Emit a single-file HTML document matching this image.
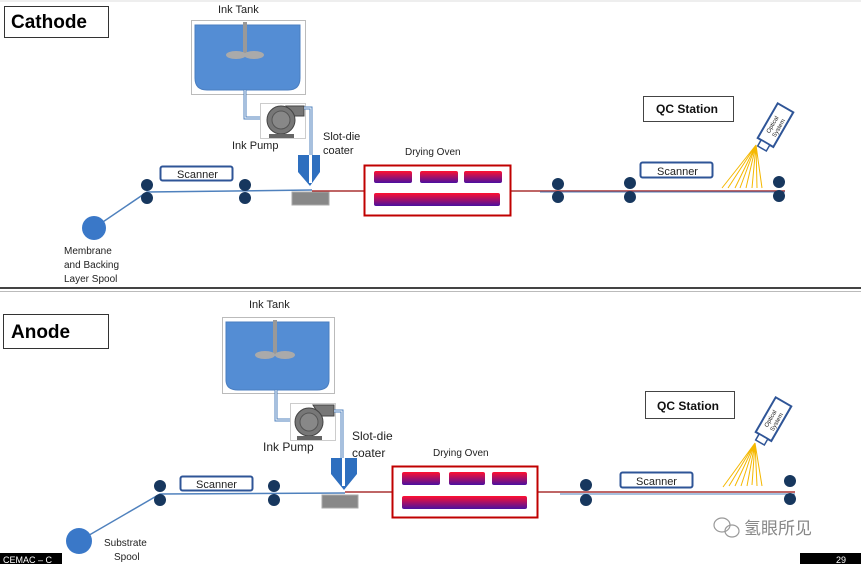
<!DOCTYPE html>
<html><head><meta charset="utf-8"><style>
body{margin:0;background:#fff}
svg{display:block}
text{font-family:"Liberation Sans","Noto Sans CJK SC",sans-serif;fill:#222}
</style></head><body>
<svg width="861" height="564" viewBox="0 0 861 564" xmlns="http://www.w3.org/2000/svg">
<defs>
<linearGradient id="bar" x1="0" y1="0" x2="0" y2="1">
<stop offset="0" stop-color="#ff1030"/><stop offset="1" stop-color="#4a10a0"/></linearGradient>
</defs>
<rect x="0" y="0" width="861" height="2" fill="#eee"/>
<!-- ===== CATHODE ===== -->
<rect x="4.5" y="6.5" width="104" height="31" fill="#fff" stroke="#333"/>
<text x="11" y="28" font-size="19" font-weight="bold" style="fill:#000">Cathode</text>
<text x="218" y="13" font-size="11">Ink Tank</text>
<rect x="191.5" y="20.5" width="114" height="74" fill="#fff" stroke="#bbb"/>
<path d="M195 25 H300 V78 Q300 90 288 90 H207 Q195 90 195 78Z" fill="#548dd4" stroke="#4a7ec0"/>
<rect x="243" y="22" width="4" height="34" fill="#999"/>
<ellipse cx="236" cy="55" rx="10" ry="4" fill="#aaa"/><ellipse cx="254" cy="55" rx="10" ry="4" fill="#aaa"/>
<path d="M245 90 V118 H262" fill="none" stroke="#4f81bd" stroke-width="3"/>
<path d="M245 90 V118 H262" fill="none" stroke="#fff" stroke-width="1"/>
<rect x="260.5" y="103.5" width="45" height="35" fill="#fff" stroke="#ccc"/>
<path d="M286 106 H304 V116 H292Z" fill="#777" stroke="#444"/>
<circle cx="281" cy="120" r="14" fill="#777" stroke="#444"/>
<circle cx="281" cy="120" r="9" fill="#888" stroke="#555"/>
<path d="M269 134 H294 V138 H269Z" fill="#666"/>
<path d="M304 108 H311 V162" fill="none" stroke="#4f81bd" stroke-width="3"/>
<path d="M304 108 H311 V162" fill="none" stroke="#fff" stroke-width="1"/>
<path d="M298 155 H320 V172 L310 186 L298 172Z" fill="#2e6fbf"/>
<rect x="309" y="155" width="3" height="28" fill="#fff"/>
<text x="232" y="149" font-size="11">Ink Pump</text>
<text x="323" y="140" font-size="11">Slot-die</text>
<text x="323" y="154" font-size="11">coater</text>
<rect x="292" y="192" width="37" height="13" fill="#888" stroke="#aaa"/>
<path d="M94 228 L147 192 L312 190" fill="none" stroke="#4f81bd" stroke-width="1.5"/>
<path d="M312 191 H785" stroke="#a33" stroke-width="1.5"/>
<path d="M540 192 H785" stroke="#4f81bd" stroke-width="1"/>
<g fill="#17375e">
<circle cx="147" cy="185" r="6"/><circle cx="147" cy="198" r="6"/>
<circle cx="245" cy="185" r="6"/><circle cx="245" cy="198" r="6"/>
<circle cx="558" cy="184" r="6"/><circle cx="558" cy="197" r="6"/>
<circle cx="630" cy="183" r="6"/><circle cx="630" cy="197" r="6"/>
<circle cx="779" cy="182" r="6"/><circle cx="779" cy="196" r="6"/>
</g>
<circle cx="94" cy="228" r="12" fill="#3a78c8"/>
<text x="64" y="254" font-size="10">Membrane</text>
<text x="64" y="268" font-size="10">and Backing</text>
<text x="64" y="282" font-size="10">Layer Spool</text>
<rect x="160.5" y="166.5" width="72" height="14" rx="2" fill="#fff" stroke="#2f5597" stroke-width="2"/>
<text x="177" y="178" font-size="11">Scanner</text>
<rect x="640.5" y="162.5" width="72" height="15" rx="2" fill="#fff" stroke="#2f5597" stroke-width="2"/>
<text x="657" y="175" font-size="11">Scanner</text>
<text x="405" y="155" font-size="10">Drying Oven</text>
<rect x="364.5" y="165.5" width="146" height="50" fill="#fff" stroke="#c00000" stroke-width="2"/>
<rect x="374" y="171" width="38" height="12" rx="2" fill="url(#bar)"/>
<rect x="420" y="171" width="38" height="12" rx="2" fill="url(#bar)"/>
<rect x="464" y="171" width="38" height="12" rx="2" fill="url(#bar)"/>
<rect x="374" y="193" width="126" height="13" rx="2" fill="url(#bar)"/>
<rect x="643.5" y="96.5" width="90" height="25" fill="#fff" stroke="#444"/>
<text x="656" y="113" font-size="12" font-weight="bold" style="fill:#111">QC Station</text>
<g transform="translate(775,126) rotate(30)">
<rect x="-9" y="-21" width="18" height="40" fill="#fff" stroke="#2f5597" stroke-width="2"/>
<rect x="-5" y="19" width="10" height="7" fill="#fff" stroke="#2f5597" stroke-width="1.5"/>
<text transform="rotate(-90)" x="0" y="-1" font-size="6" text-anchor="middle">Optical</text>
<text transform="rotate(-90)" x="0" y="6" font-size="6" text-anchor="middle">System</text>
</g>
<g stroke="#f5b800" stroke-width="1">
<path d="M756 145 L722 188 M756 145 L728 188 M756 145 L735 188 M756 145 L740 188 M756 145 L746 188 M756 145 L752 188 M756 145 L757 188 M756 145 L762 188"/>
</g>
<!-- divider -->
<rect x="0" y="287" width="861" height="2" fill="#444"/>
<rect x="0" y="291" width="861" height="1" fill="#bbb"/>
<!-- ===== ANODE ===== -->
<rect x="3.5" y="314.5" width="105" height="34" fill="#fff" stroke="#333"/>
<text x="11" y="338" font-size="19" font-weight="bold" style="fill:#000">Anode</text>
<text x="249" y="308" font-size="11">Ink Tank</text>
<rect x="222.5" y="317.5" width="112" height="76" fill="#fff" stroke="#bbb"/>
<path d="M226 322 H329 V380 Q329 390 317 390 H238 Q226 390 226 380Z" fill="#548dd4" stroke="#4a7ec0"/>
<rect x="273" y="320" width="4" height="36" fill="#999"/>
<ellipse cx="265" cy="355" rx="10" ry="4" fill="#aaa"/><ellipse cx="285" cy="355" rx="10" ry="4" fill="#aaa"/>
<path d="M276 390 V420 H295" fill="none" stroke="#4f81bd" stroke-width="3"/>
<path d="M276 390 V420 H295" fill="none" stroke="#fff" stroke-width="1"/>
<rect x="290.5" y="403.5" width="45" height="37" fill="#fff" stroke="#ccc"/>
<path d="M313 405 H334 V416 H320Z" fill="#777" stroke="#444"/>
<circle cx="309" cy="422" r="14" fill="#777" stroke="#444"/>
<circle cx="309" cy="422" r="9" fill="#888" stroke="#555"/>
<path d="M297 436 H322 V440 H297Z" fill="#666"/>
<path d="M334 411 H342 V462" fill="none" stroke="#4f81bd" stroke-width="3"/>
<path d="M334 411 H342 V462" fill="none" stroke="#fff" stroke-width="1"/>
<path d="M331 458 H357 V474 L344 490 L331 474Z" fill="#2e6fbf"/>
<rect x="342" y="458" width="3" height="28" fill="#fff"/>
<text x="263" y="451" font-size="12">Ink Pump</text>
<text x="352" y="440" font-size="12">Slot-die</text>
<text x="352" y="457" font-size="12">coater</text>
<rect x="322" y="495" width="36" height="13" fill="#888" stroke="#aaa"/>
<path d="M79 541 L160 494 L345 493" fill="none" stroke="#4f81bd" stroke-width="1.5"/>
<path d="M345 492 H795" stroke="#a33" stroke-width="1.5"/>
<path d="M560 494 H795" stroke="#4f81bd" stroke-width="1"/>
<g fill="#17375e">
<circle cx="160" cy="486" r="6"/><circle cx="160" cy="500" r="6"/>
<circle cx="274" cy="486" r="6"/><circle cx="274" cy="500" r="6"/>
<circle cx="586" cy="485" r="6"/><circle cx="586" cy="500" r="6"/>
<circle cx="790" cy="481" r="6"/><circle cx="790" cy="499" r="6"/>
</g>
<circle cx="79" cy="541" r="13" fill="#3a78c8"/>
<text x="104" y="546" font-size="10">Substrate</text>
<text x="114" y="560" font-size="10">Spool</text>
<rect x="180.5" y="476.5" width="72" height="14" rx="2" fill="#fff" stroke="#2f5597" stroke-width="2"/>
<text x="196" y="488" font-size="11">Scanner</text>
<rect x="620.5" y="472.5" width="72" height="15" rx="2" fill="#fff" stroke="#2f5597" stroke-width="2"/>
<text x="636" y="485" font-size="11">Scanner</text>
<text x="433" y="456" font-size="10">Drying Oven</text>
<rect x="392.5" y="466.5" width="145" height="51" fill="#fff" stroke="#c00000" stroke-width="2"/>
<rect x="402" y="472" width="38" height="13" rx="2" fill="url(#bar)"/>
<rect x="449" y="472" width="36" height="13" rx="2" fill="url(#bar)"/>
<rect x="492" y="472" width="35" height="13" rx="2" fill="url(#bar)"/>
<rect x="402" y="496" width="125" height="13" rx="2" fill="url(#bar)"/>
<rect x="645.5" y="391.5" width="89" height="27" fill="#fff" stroke="#444"/>
<text x="657" y="410" font-size="12" font-weight="bold" style="fill:#111">QC Station</text>
<g transform="translate(773,420) rotate(30)">
<rect x="-9" y="-21" width="18" height="40" fill="#fff" stroke="#2f5597" stroke-width="2"/>
<rect x="-5" y="19" width="10" height="7" fill="#fff" stroke="#2f5597" stroke-width="1.5"/>
<text transform="rotate(-90)" x="0" y="-1" font-size="6" text-anchor="middle">Optical</text>
<text transform="rotate(-90)" x="0" y="6" font-size="6" text-anchor="middle">System</text>
</g>
<g stroke="#f5b800" stroke-width="1">
<path d="M755 443 L723 487 M755 443 L729 486 M755 443 L735 486 M755 443 L741 486 M755 443 L747 486 M755 443 L752 485 M755 443 L757 486 M755 443 L762 486"/>
</g>
<!-- watermark & footer -->
<g fill="none" stroke="#999" stroke-width="1.2">
<ellipse cx="722" cy="525" rx="8" ry="7"/><ellipse cx="732" cy="531" rx="7" ry="6"/>
</g>
<text x="744" y="534" font-size="17" style="fill:#888">氢眼所见</text>
<rect x="0" y="553" width="62" height="11" fill="#000"/>
<text x="3" y="563" font-size="9" style="fill:#fff">CEMAC – C</text>
<rect x="800" y="553" width="61" height="11" fill="#000"/>
<text x="836" y="563" font-size="9" style="fill:#fff">29</text>
</svg>
</body></html>
